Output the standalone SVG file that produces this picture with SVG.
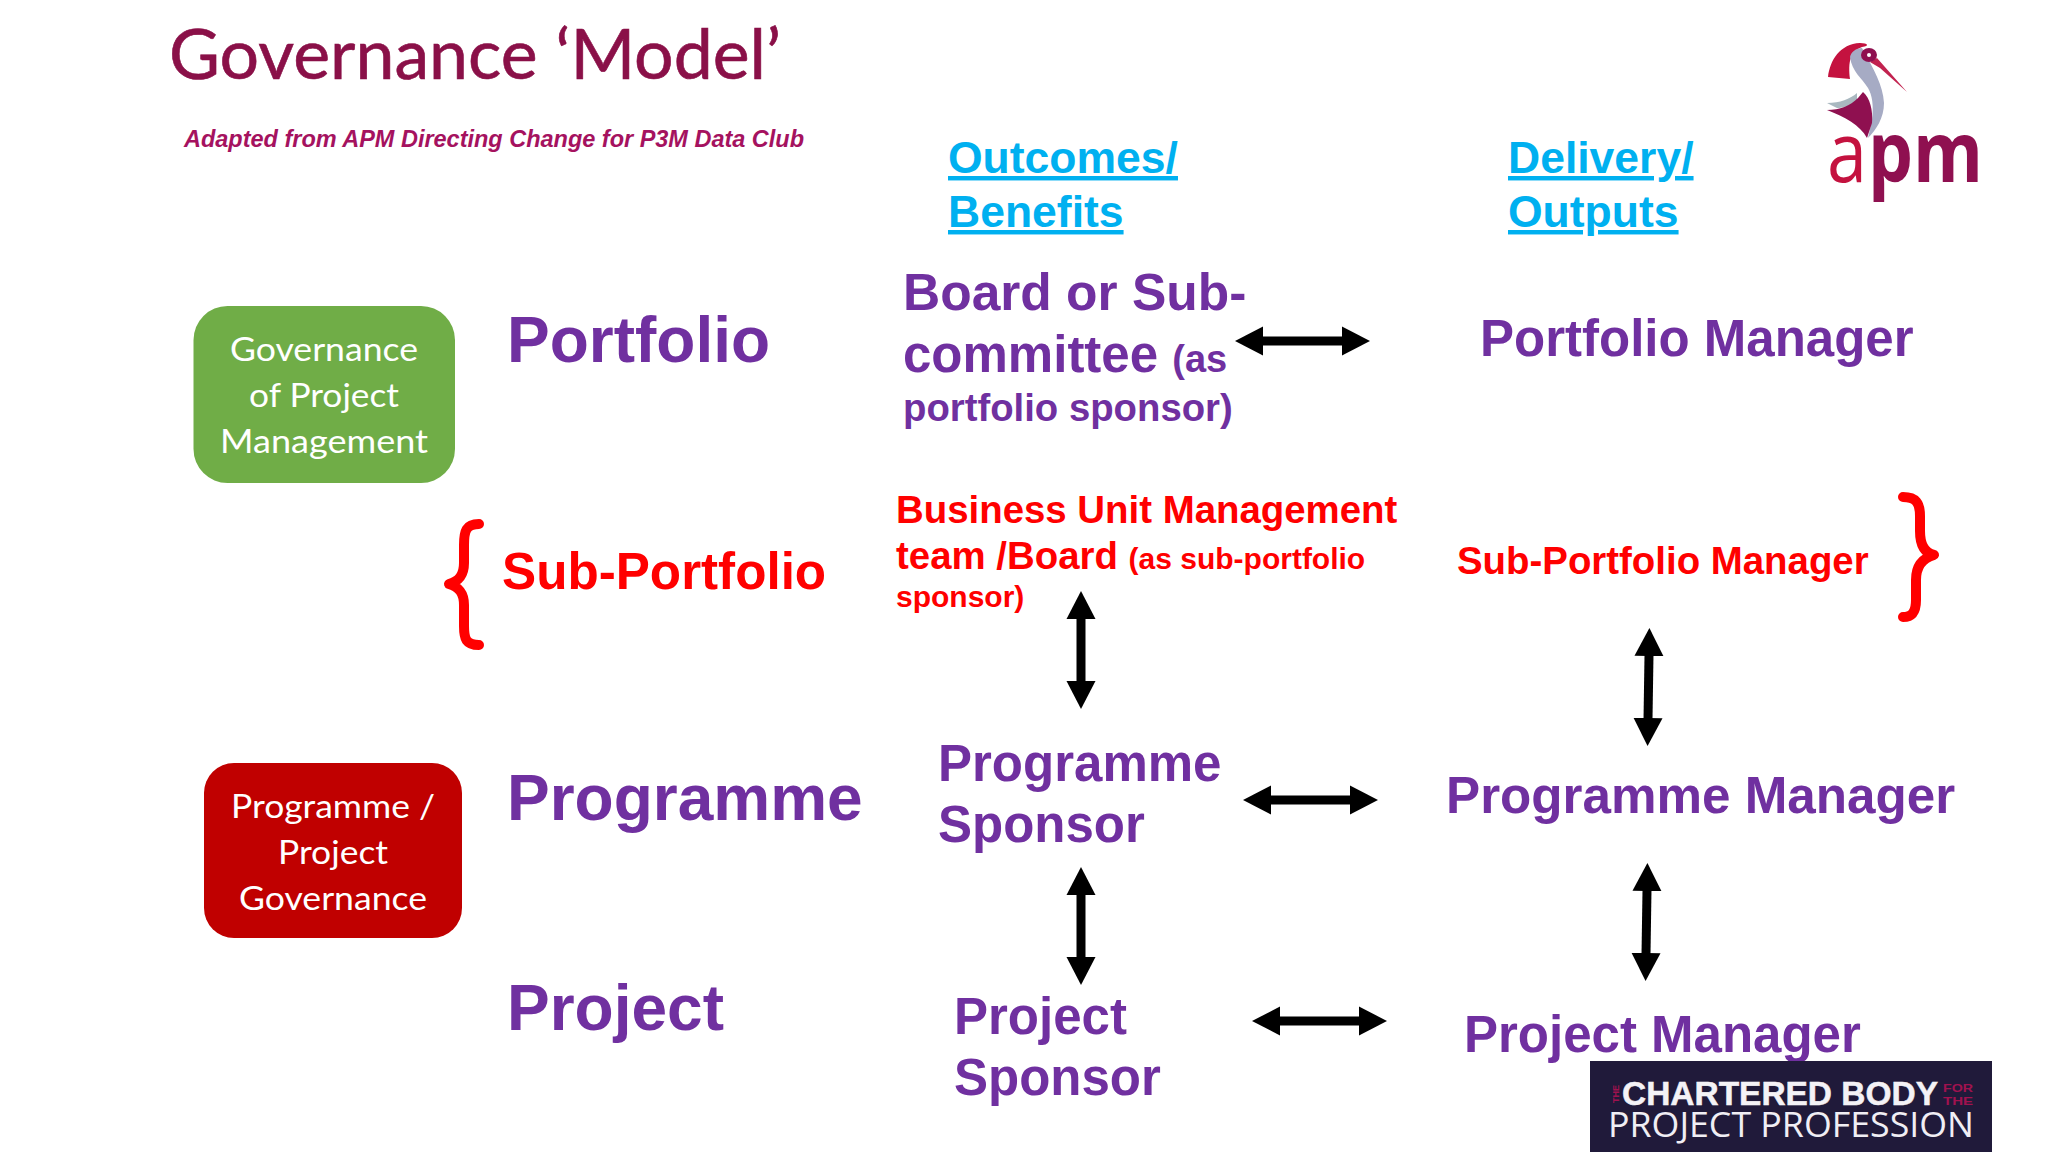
<svg xmlns="http://www.w3.org/2000/svg" width="2048" height="1152" viewBox="0 0 2048 1152">
<style>
text{font-family:"Liberation Sans",Arial,sans-serif;font-weight:700;fill:#7030a0}
.red{fill:#ff0000}
.link{fill:#00b0f0;text-decoration:underline;font-size:44.5px}
.box{font-family:Lato,"Open Sans",sans-serif;font-weight:400;fill:#fff;font-size:33px;text-anchor:middle}
.lvl{font-size:64px}
.role{font-size:51px}
.arrow{stroke:#000;stroke-width:9;fill:none;marker-start:url(#a);marker-end:url(#a)}
.brace{fill:none;stroke:#f00;stroke-width:10;stroke-linecap:round;stroke-linejoin:round}
</style>
<defs><marker id="a" markerUnits="userSpaceOnUse" markerWidth="30" markerHeight="30" refX="1" refY="15" orient="auto-start-reverse" viewBox="0 0 30 30"><path d="M0 0.5L28 15L0 29.5Z" fill="#000"/></marker></defs>
<rect width="2048" height="1152" fill="#fff"/>
<g id="title">
<text x="169" y="79" font-size="69" style="font-family:Lato,'Open Sans',sans-serif;font-weight:400;fill:#8a1048;stroke:#8a1048;stroke-width:.6" textLength="612" lengthAdjust="spacingAndGlyphs">Governance ‘Model’</text>
<text x="184" y="147" font-size="24" font-style="italic" style="fill:#a5125f" textLength="620" lengthAdjust="spacingAndGlyphs">Adapted from APM Directing Change for P3M Data Club</text>
</g>
<g id="logo">
<path d="M1828 77C1830 60 1840 44 1860 43C1868 43 1870 46 1862 47C1850 52 1848 62 1850 79Z" fill="#c4123f"/>
<path d="M1850 57C1851 52 1856 48 1862 48C1874 70 1883 85 1884 103C1884 118 1876 130 1868 138L1872 120C1874 105 1872 95 1868 88C1862 78 1852 72 1850 57Z" fill="#a6abc4"/>
<path d="M1877 58L1907 92L1880 68L1870 62Z" fill="#c2224f"/>
<ellipse cx="1869" cy="55" rx="8" ry="7" fill="#8f1050"/><circle cx="1869" cy="55" r="2" fill="#fff"/>
<path d="M1827 103C1840 103 1850 99 1857 93L1857 101C1850 106 1843 108 1837 108Z" fill="#a9b8c0"/>
<path d="M1827 110C1840 110 1850 106 1858 98L1863 92C1870 98 1873 110 1872 123L1867 138C1860 125 1845 117 1827 110Z" fill="#8f1050"/>
<text x="1827" y="182" style="font-family:'Open Sans',sans-serif;font-weight:400;fill:#c4123f" font-size="84" textLength="40" lengthAdjust="spacingAndGlyphs">a</text>
<text x="1868" y="182" style="font-family:'Open Sans',sans-serif;font-weight:700;fill:#8f1050" font-size="84" textLength="115" lengthAdjust="spacingAndGlyphs">pm</text>
</g>
<g id="col-heads">
<text class="link" x="948" y="173">Outcomes/</text>
<text class="link" x="948" y="227">Benefits</text>
<text class="link" x="1508" y="173">Delivery/</text>
<text class="link" x="1508" y="227">Outputs</text>
</g>
<g id="gov-pm">
<rect x="193.500" y="306" width="261.500" height="177" rx="34" fill="#70ad47"/>
<text class="box" x="324" y="361" textLength="188" lengthAdjust="spacingAndGlyphs">Governance</text>
<text class="box" x="324" y="407" textLength="150" lengthAdjust="spacingAndGlyphs">of Project</text>
<text class="box" x="324" y="453" textLength="208" lengthAdjust="spacingAndGlyphs">Management</text>
</g>
<g id="gov-prog">
<rect x="204" y="763" width="258" height="175" rx="30" fill="#c00000"/>
<text class="box" x="333" y="818" textLength="204" lengthAdjust="spacingAndGlyphs">Programme /</text>
<text class="box" x="333" y="864" textLength="110" lengthAdjust="spacingAndGlyphs">Project</text>
<text class="box" x="333" y="910" textLength="188" lengthAdjust="spacingAndGlyphs">Governance</text>
</g>
<g id="portfolio"><text class="lvl" x="507" y="362">Portfolio</text></g>
<g id="sub-portfolio"><text class="red" x="502" y="589" font-size="51.200">Sub-Portfolio</text>
<path class="brace" d="M479 524C466 524 464 531 464 545V563C464 575 459 581 449 584C459 587 464 593 464 605V626C464 639 466 645 479 645"/></g>
<g id="programme"><text class="lvl" x="507" y="820">Programme</text></g>
<g id="project"><text class="lvl" x="507" y="1030">Project</text></g>
<g id="board">
<text class="role" x="903" y="310" style="font-size:51.500px">Board or Sub-</text>
<text class="role" x="903" y="372">committee <tspan font-size="38">(as</tspan></text>
<text x="903" y="421" font-size="38.300">portfolio sponsor)</text>
</g>
<g id="portfolio-manager"><text class="role" x="1480" y="356">Portfolio Manager</text></g>
<g id="bu-team">
<text class="red" x="896" y="523" font-size="38.400">Business Unit Management</text>
<text class="red" x="896" y="569" font-size="38.400">team /Board <tspan font-size="30">(as sub-portfolio</tspan></text>
<text class="red" x="896" y="607" font-size="30">sponsor)</text>
</g>
<g id="sub-portfolio-manager"><text class="red" x="1457" y="574" font-size="38.400">Sub-Portfolio Manager</text>
<path class="brace" d="M1903 497C1916 497 1920 503 1920 516V531C1920 545 1925 553 1934 555C1923 558 1916 566 1916 580V600C1916 612 1912 617 1903 617"/></g>
<g id="programme-sponsor"><text class="role" x="938" y="781">Programme</text><text class="role" x="938" y="842">Sponsor</text></g>
<g id="programme-manager"><text class="role" x="1446" y="813" style="font-size:51.200px">Programme Manager</text></g>
<g id="project-sponsor"><text class="role" x="954" y="1034">Project</text><text class="role" x="954" y="1095">Sponsor</text></g>
<g id="project-manager"><text class="role" x="1464" y="1052">Project Manager</text></g>
<g id="connectors">
<path class="arrow" d="M1262 341H1343"/>
<path class="arrow" d="M1270 800H1351"/>
<path class="arrow" d="M1279 1021H1360"/>
<path class="arrow" d="M1081 618V682"/>
<path class="arrow" d="M1081 894V958"/>
<path class="arrow" d="M1649 655L1648 719"/>
<path class="arrow" d="M1647 890L1646 954"/>
</g>
<g id="badge">
<rect x="1590" y="1061" width="402" height="91" fill="#201a3a"/>
<text x="1622" y="1105" font-size="33" style="fill:#f4f2f6;stroke:#f4f2f6;stroke-width:.5" textLength="316" lengthAdjust="spacingAndGlyphs">CHARTERED BODY</text>
<text x="1608" y="1137" font-size="35" style="font-family:'Open Sans',sans-serif;font-weight:400;fill:#f0eef4" textLength="366" lengthAdjust="spacingAndGlyphs">PROJECT PROFESSION</text>
<text x="1619" y="1103" font-size="9" transform="rotate(-90 1619 1103)" style="fill:#a0124f">THE</text>
<text x="1943" y="1092" font-size="11" style="fill:#a0124f" textLength="30" lengthAdjust="spacingAndGlyphs">FOR</text>
<text x="1943" y="1105" font-size="11" style="fill:#a0124f" textLength="30" lengthAdjust="spacingAndGlyphs">THE</text>
</g>
</svg>
